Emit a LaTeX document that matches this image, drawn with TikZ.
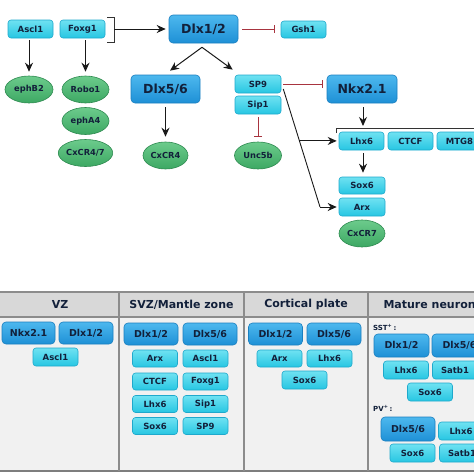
\documentclass[tikz,border=0pt]{standalone}
\usepackage{fontspec}
\setmainfont{DejaVu Sans}
\usetikzlibrary{arrows.meta,calc,shapes.geometric}
\definecolor{txt}{HTML}{12203A}
\definecolor{bigtop}{HTML}{4DB8EE}
\definecolor{bigbot}{HTML}{1E90D6}
\definecolor{bigbd}{HTML}{1A7FC0}
\definecolor{smtop}{HTML}{6FE2F2}
\definecolor{smbot}{HTML}{27C6E2}
\definecolor{smbd}{HTML}{1FA9CC}
\definecolor{grtop}{HTML}{6CCB8C}
\definecolor{grbot}{HTML}{3DA863}
\definecolor{grbd}{HTML}{2E8A50}
\definecolor{inh}{HTML}{A8343F}
\definecolor{tbd}{HTML}{8C8C8C}
\definecolor{thead}{HTML}{D8D8D8}
\definecolor{tbody}{HTML}{F1F1F1}
\tikzset{
  bigbox/.style={rectangle,rounded corners=4pt,draw=bigbd,line width=0.6pt,top color=bigtop,bottom color=bigbot,
    minimum width=69pt,minimum height=28pt,inner sep=0pt,text=txt,font=\fontsize{12.5}{13}\selectfont\bfseries},
  tbig/.style={bigbox,minimum width=54pt,minimum height=22pt,font=\fontsize{9.5}{10}\selectfont\bfseries},
  smbox/.style={rectangle,rounded corners=3pt,draw=smbd,line width=0.6pt,top color=smtop,bottom color=smbot,
    minimum width=45pt,minimum height=18pt,inner sep=0pt,text=txt,font=\fontsize{8.5}{9}\selectfont\bfseries},
  gene/.style={ellipse,draw=grbd,line width=0.6pt,top color=grtop,bottom color=grbot,
    minimum width=47pt,minimum height=27pt,inner sep=0pt,text=txt,font=\fontsize{8.3}{9}\selectfont\bfseries},
  arr/.style={-{Stealth[length=9pt,width=8pt]},line width=1pt,black!90},
  inhib/.style={-{Bar[width=8pt]},line width=0.9pt,inh},
  head/.style={text=txt,font=\fontsize{11}{12}\selectfont\bfseries},
  lab/.style={text=txt,font=\fontsize{7}{8}\selectfont\bfseries,anchor=west,inner sep=0pt}
}
\begin{document}
\begin{tikzpicture}[x=1pt,y=-1pt]
\useasboundingbox (0,0) rectangle (474,474);
\clip (0,0) rectangle (474,474);
% ---------- top network ----------
\node[smbox] (ascl1) at (30.5,29) {Ascl1};
\node[smbox] (foxg1) at (82.5,29) {Foxg1};
\node[bigbox] (dlx12) at (203.5,29) {Dlx1/2};
\node[smbox,minimum height=17pt] (gsh1) at (303.5,29.5) {Gsh1};
\node[bigbox] (dlx56) at (165.5,89) {Dlx5/6};
\node[smbox,minimum width=46pt] (sp9) at (258,84) {SP9};
\node[smbox,minimum width=46pt] (sip1) at (258,105) {Sip1};
\node[bigbox,minimum width=70pt] (nkx) at (362,89) {Nkx2.1};
\node[smbox] (lhx6) at (361.5,141) {Lhx6};
\node[smbox] (ctcf) at (410.5,141) {CTCF};
\node[smbox] (mtg8) at (459.5,141) {MTG8};
\node[smbox,minimum width=46pt,minimum height=17pt] (sox6) at (362,185.5) {Sox6};
\node[smbox,minimum width=46pt] (arx) at (362,207) {Arx};
\node[gene,minimum width=48pt] (ephb2) at (29,89.5) {ephB2};
\node[gene] (robo1) at (85.5,89.5) {Robo1};
\node[gene] (epha4) at (85.5,121) {ephA4};
\node[gene] (cxcr47) at (85.5,153) {CxCR4/7};
\node[gene,minimum width=45pt] (cxcr4) at (165.5,155.5) {CxCR4};
\node[gene] (unc5b) at (258,155.5) {Unc5b};
\node[gene,minimum width=46pt] (cxcr7) at (362,233.5) {CxCR7};
% bracket around Ascl1/Foxg1
\coordinate (bk) at (114,29);
\draw[line width=0.9pt,black!80] (107,17) -- (114,17) -- (114,42) -- (107,42);
\draw[arr] (bk) -- ($(dlx12.west)+(-3,0)$);
\draw[arr] ($(ephb2.north |- ascl1.south)+(0,2)$) -- ($(ephb2.north)+(0,-4)$);
\draw[arr] ($(robo1.north |- foxg1.south)+(0,2)$) -- ($(robo1.north)+(0,-4)$);
\draw[arr] ($(dlx12.south)+(-1.5,4)$) -- ($(dlx56.north)+(4.5,-4)$);
\draw[arr] ($(dlx12.south)+(-1.5,4)$) -- ($(sp9.north west)+(-2,-5)$);
\draw[inhib] ($(dlx12.east)+(4,0)$) -- ($(gsh1.west |- dlx12.east)+(-6,0)$);
\draw[arr] ($(dlx56.south)+(0,4)$) -- ($(cxcr4.north)+(0,-5)$);
\draw[inhib] ($(sip1.south)+(0,3)$) -- ($(unc5b.north)+(0,-5)$);
\draw[inhib] ($(sp9.east)+(2,0)$) -- ($(nkx.west |- sp9.east)+(-4,0)$);
% bracket above Lhx6 row
\coordinate (lb) at (363,128);
\draw[line width=0.9pt,black!80] (336,133) -- (336,128) -- (480,128);
\draw[arr] ($(lb |- nkx.south)+(0,4)$) -- ($(lb)+(0,-2)$);
% SP9 diagonal
\coordinate (ds) at ($(sp9.east)+(2,5)$);
\coordinate (de) at (320,207);
\coordinate (br) at ($(ds)!0.44!(de)$);
\draw[line width=0.9pt,black!90] (ds) -- (de);
\draw[arr] (de) -- ($(arx.west)+(-2,0)$);
\draw[arr] (br) -- ($(lhx6.west |- br)+(-2,0)$);
\draw[arr] ($(lb |- lhx6.south)+(0,3)$) -- ($(lb |- sox6.north)+(0,-4)$);
% ---------- table ----------
\fill[thead] (-2,292) rectangle (478,317);
\fill[tbody] (-2,317) rectangle (478,471);
\draw[tbd,line width=1.3pt] (-2,292) -- (478,292);
\draw[tbd,line width=1.3pt] (-2,317) -- (478,317);
\draw[tbd!90!black,line width=1.8pt] (-2,471) -- (478,471);
\foreach \x in {119,244,368} \draw[tbd,line width=1.3pt] (\x,292) -- (\x,471);
\node[head] (hvz) at (60,304.5) {VZ};
\node[head] (hsvz) at (181.5,304.5) {SVZ/Mantle zone};
\node[head] (hcp) at (306,304.5) {Cortical plate};
\node[head,anchor=west] (hmn) at (380,304.5) {Mature neurons};
% VZ
\node[tbig,minimum width=53pt] (vnkx) at (28.5,333) {Nkx2.1};
\node[tbig] (vdlx) at (86,333) {Dlx1/2};
\node[smbox] (vascl) at (55.5,357) {Ascl1};
% SVZ
\node[tbig] (sdlx12) at (151,334) {Dlx1/2};
\node[tbig] (sdlx56) at (210,334) {Dlx5/6};
\node[smbox,minimum height=17pt] (sarx) at (155,358.5) {Arx};
\node[smbox,minimum height=17pt] (sascl) at (205.5,358.5) {Ascl1};
\node[smbox,minimum height=17pt] (sctcf) at (155,381.5) {CTCF};
\node[smbox,minimum height=17pt] (sfox) at (205.5,381.5) {Foxg1};
\node[smbox,minimum height=17pt] (slhx) at (155,404) {Lhx6};
\node[smbox,minimum height=17pt] (ssip) at (205.5,404) {Sip1};
\node[smbox,minimum height=17pt] (ssox) at (155,426) {Sox6};
\node[smbox,minimum height=17pt] (ssp9) at (205.5,426) {SP9};
% Cortical plate
\node[tbig] (cdlx12) at (275.5,334) {Dlx1/2};
\node[tbig] (cdlx56) at (334,334) {Dlx5/6};
\node[smbox,minimum height=17pt] (carx) at (279.5,358.5) {Arx};
\node[smbox,minimum height=17pt] (clhx) at (329.5,358.5) {Lhx6};
\node[smbox] (csox) at (304.5,380) {Sox6};
% Mature neurons
\node[lab] (sst) at (373,327) {SST\textsuperscript{+}\,:};
\node[tbig,minimum width=55pt,minimum height=23pt] (mdlx12) at (401.5,345.5) {Dlx1/2};
\node[tbig,minimum width=55pt,minimum height=23pt] (mdlx56) at (459.5,345.5) {Dlx5/6};
\node[smbox] (mlhx) at (406,370) {Lhx6};
\node[smbox] (msatb) at (455,370) {Satb1};
\node[smbox] (msox) at (430,392) {Sox6};
\node[lab] (pv) at (373,408) {PV\textsuperscript{+}\,:};
\node[tbig,minimum width=54pt,minimum height=24pt] (pdlx56) at (408,429) {Dlx5/6};
\node[smbox] (plhx) at (461,431) {Lhx6};
\node[smbox] (psox) at (412.5,453) {Sox6};
\node[smbox] (psatb) at (462,453) {Satb1};
\end{tikzpicture}
\end{document}
